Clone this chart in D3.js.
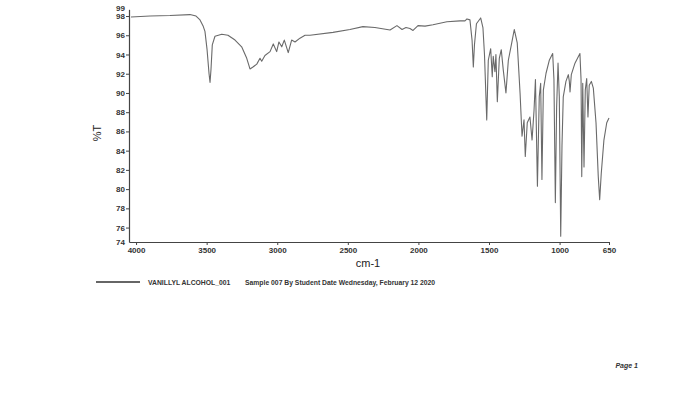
<!DOCTYPE html>
<html>
<head>
<meta charset="utf-8">
<script src="https://cdn.jsdelivr.net/npm/d3@7"></script>
<style>
  body { margin: 0; background: #fff; }
  svg { display: block; font-family: "Liberation Sans", Arial, sans-serif; }
</style>
</head>
<body>
<div id="chart"></div>
<script>
// Spektrum-Daten (Wellenzahl cm-1, %T)
const waveNumbers = [4036, 3901, 3760, 3618, 3575, 3547, 3526, 3512, 3497, 3483, 3476, 3469, 3460, 3441, 3393,
  3349, 3299, 3252, 3216, 3193, 3172, 3145, 3122, 3110, 3087, 3051, 3028, 3004, 2988, 2968, 2950, 2922, 2898,
  2874, 2839, 2803, 2768, 2605, 2485, 2393, 2308, 2201, 2152, 2116, 2088, 2060, 2038, 2003, 1953, 1897, 1798,
  1705, 1670, 1656, 1635, 1620, 1611, 1603, 1589, 1559, 1543, 1532, 1516, 1505, 1488, 1477, 1470, 1458, 1451,
  1441, 1427, 1413, 1399, 1380, 1363, 1339, 1321, 1300, 1280, 1266, 1252, 1243, 1229, 1210, 1195, 1181, 1171,
  1157, 1144, 1134, 1125, 1115, 1096, 1073, 1049, 1040, 1030, 1021, 1011, 1002, 992, 983, 974, 955, 938, 931,
  926, 917, 891, 856, 848, 843, 836, 827, 818, 808, 799, 790, 775, 761, 742, 726, 716, 705, 686, 666, 650];
const transmittance = [97.9, 98.0, 98.05, 98.15, 98.0, 97.6, 97.0, 96.4, 94.5, 92.0, 91.1, 92.5, 95.0, 95.9, 96.1,
  96.0, 95.5, 94.8, 93.6, 92.5, 92.7, 93.0, 93.6, 93.3, 93.9, 94.3, 95.1, 94.3, 95.3, 94.8, 95.5, 94.2, 95.5,
  95.3, 95.7, 96.0, 96.0, 96.3, 96.6, 96.9, 96.8, 96.55, 97.0, 96.6, 96.8, 96.7, 96.5, 97.0, 96.95, 97.1, 97.4,
  97.5, 97.5, 97.7, 97.6, 95.5, 92.7, 95.0, 97.2, 97.8, 96.8, 94.0, 87.2, 93.4, 94.6, 91.7, 93.8, 92.2, 94.0,
  89.1, 93.6, 94.5, 92.4, 90.0, 93.4, 95.2, 96.6, 95.2, 90.0, 85.5, 87.2, 83.4, 86.9, 87.5, 85.1, 88.2, 91.4,
  80.3, 89.6, 91.0, 81.0, 90.3, 92.05, 93.4, 94.1, 91.4, 78.6, 88.5, 93.1, 89.6, 75.1, 84.5, 89.6, 91.2, 91.9, 91.2,
  90.1, 91.9, 93.1, 94.1, 91.4, 81.3, 91.0, 82.3, 90.3, 91.5, 87.5, 90.8, 91.2, 90.5, 86.9, 81.3, 78.9, 81.6, 85.1, 86.9, 87.4];

const xTicks = [4000, 3500, 3000, 2500, 2000, 1500, 1000, 650];
const yTicks = [76, 78, 80, 82, 84, 86, 88, 90, 92, 94, 96, 98];
const yEndLabels = ["74", "99"];

const width = 700, height = 394;

const svg = d3.select("#chart").append("svg")
  .attr("width", width)
  .attr("height", height);

const x = d3.scaleLinear().domain([4050, 650]).range([129, 609]);
const y = d3.scaleLinear().domain([74.5, 98.7]).range([242, 9.3]);

// X-Achse
const xAxis = svg.append("g")
  .attr("transform", "translate(0,242)")
  .call(d3.axisBottom(x).tickValues(xTicks).tickFormat(d3.format("d"))
    .tickSize(3).tickPadding(2).tickSizeOuter(0));
xAxis.select(".domain").attr("stroke", "#444").attr("stroke-width", 1.2);
xAxis.selectAll(".tick line").attr("stroke", "#444");
xAxis.selectAll("text")
  .attr("font-size", "8px")
  .attr("font-weight", "bold")
  .attr("fill", "#333")
  .attr("font-family", "Liberation Sans, Arial, sans-serif");

// Y-Achse
const yAxis = svg.append("g")
  .attr("transform", "translate(129,0)")
  .call(d3.axisLeft(y).tickValues(yTicks).tickSize(3).tickPadding(1).tickSizeOuter(0));
yAxis.select(".domain").attr("stroke", "#444").attr("stroke-width", 1.2);
yAxis.selectAll(".tick line").attr("stroke", "#444");
yAxis.selectAll("text")
  .attr("font-size", "8px")
  .attr("font-weight", "bold")
  .attr("fill", "#333")
  .attr("font-family", "Liberation Sans, Arial, sans-serif");

// Endbeschriftungen 74 und 99
svg.selectAll(".endlabel")
  .data([{ v: 74.5, t: yEndLabels[0], dy: 2.5 }, { v: 98.7, t: yEndLabels[1], dy: 1.8 }])
  .enter().append("text")
  .attr("x", 125)
  .attr("y", d => y(d.v) + d.dy)
  .attr("text-anchor", "end")
  .attr("font-size", "8px")
  .attr("font-weight", "bold")
  .attr("fill", "#333")
  .text(d => d.t);

// Spektrum
const data = waveNumbers.map((w, i) => ({ w: w, t: transmittance[i] }));
const line = d3.line().x(d => x(d.w)).y(d => y(d.t));

svg.append("path")
  .datum(data)
  .attr("fill", "none")
  .attr("stroke", "#6a6a6a")
  .attr("stroke-width", 1.1)
  .attr("stroke-linejoin", "round")
  .attr("d", line);

// Achsentitel
svg.append("text")
  .attr("transform", "translate(101,133) rotate(-90)")
  .attr("text-anchor", "middle")
  .attr("font-size", "11px")
  .attr("fill", "#222")
  .text("%T");

svg.append("text")
  .attr("x", 368)
  .attr("y", 267)
  .attr("text-anchor", "middle")
  .attr("font-size", "11px")
  .attr("fill", "#222")
  .text("cm-1");

// Legende
svg.append("line")
  .attr("x1", 96).attr("x2", 140)
  .attr("y1", 282).attr("y2", 282)
  .attr("stroke", "#333")
  .attr("stroke-width", 1.5);

svg.append("text")
  .attr("x", 148)
  .attr("y", 284.5)
  .attr("font-size", "6.8px")
  .attr("font-weight", "bold")
  .attr("fill", "#333")
  .text("VANILLYL ALCOHOL_001");

svg.append("text")
  .attr("x", 245)
  .attr("y", 284.5)
  .attr("font-size", "6.8px")
  .attr("font-weight", "bold")
  .attr("fill", "#333")
  .text("Sample 007 By Student Date Wednesday, February 12 2020");

svg.append("text")
  .attr("x", 638)
  .attr("y", 368)
  .attr("text-anchor", "end")
  .attr("font-size", "7px")
  .attr("font-weight", "bold")
  .attr("font-style", "italic")
  .attr("fill", "#333")
  .text("Page 1");
</script>
</body>
</html>
